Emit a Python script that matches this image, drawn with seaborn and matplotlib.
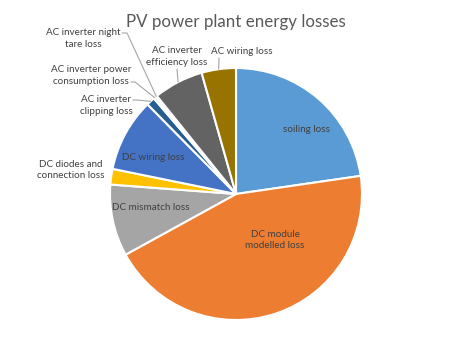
import numpy as np
import matplotlib
matplotlib.use("Agg")
import matplotlib.pyplot as plt
import seaborn as sns

# slice order: clockwise from 12 o'clock
labels = ["soiling loss", "DC module\nmodelled loss", "DC mismatch loss",
          "DC diodes and\nconnection loss", "DC wiring loss",
          "AC inverter\nclipping loss", "AC inverter power\nconsumption loss",
          "AC inverter night\ntare loss", "AC inverter\nefficiency loss",
          "AC wiring loss"]
values = [22.7, 44.3, 9.2, 2.0, 9.4, 1.1, 0.3, 0.2, 6.4, 4.4]
colors = ["#5B9BD5", "#ED7D31", "#A5A5A5", "#FFC000", "#4472C4",
          "#255E91", "#70AD47", "#9E480E", "#636363", "#997300"]

sns.set_style("white")
plt.rcParams["font.family"] = ["Lato", "DejaVu Sans"]

W, H = 474, 358
CX, CY, R = 236, 194, 126  # pie centre / radius in pixels


def px(x, y):
    return (x - CX) / R, (CY - y) / R


fig = plt.figure(figsize=(W / 100, H / 100), dpi=100)
ax = fig.add_axes([0, 0, 1, 1])
ax.pie(values, colors=colors, startangle=90, counterclock=False,
       wedgeprops=dict(edgecolor="white", linewidth=1.5))
ax.set_xlim(-CX / R, (W - CX) / R)
ax.set_ylim((CY - H) / R, CY / R)
ax.axis("off")

txt = "#404040"
fs = 7.1

# labels inside slices
inside = {0: (306, 129), 1: (275, 240), 2: (151, 207), 4: (153, 158)}
for i, (x, y) in inside.items():
    ax.text(*px(x, y), labels[i], ha="center", va="center", fontsize=fs,
            color=txt, linespacing=1.3)
ax.text(*px(71, 170), labels[3], ha="center", va="center", fontsize=fs,
        color=txt, linespacing=1.3)

# outside labels with leader lines
total = sum(values)
cum = np.cumsum([0] + values[:-1])
mid = np.deg2rad(90 - 360 * (cum + np.array(values) / 2) / total)

outside = {
    5: ((106, 105.5), [(133, 100), (137, 100)]),
    6: ((91, 75.5), [(131, 82), (135, 82)]),
    7: ((83.5, 38.5), [(122, 33), (127, 33)]),
    8: ((177, 56.5), [(177, 69)]),
    9: ((242, 52), [(219, 58)]),
}
for i, (pos, pts) in outside.items():
    ax.text(*px(*pos), labels[i], ha="center", va="center", fontsize=fs,
            color=txt, linespacing=1.3)
    xs = [px(*p)[0] for p in pts] + [np.cos(mid[i])]
    ys = [px(*p)[1] for p in pts] + [np.sin(mid[i])]
    ax.plot(xs, ys, color="#a6a6a6", lw=0.8)

ax.text(*px(236, 22), "PV power plant energy losses", ha="center",
        va="center", fontsize=12.2, color="#595959")

fig.savefig("out.png", dpi=100)
